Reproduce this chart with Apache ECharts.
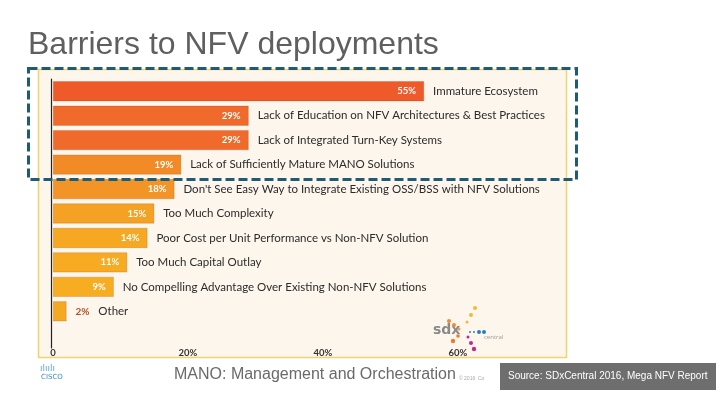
<!DOCTYPE html>
<html>
<head>
<meta charset="utf-8">
<script src="https://cdn.jsdelivr.net/npm/echarts@6/dist/echarts.min.js"></script>
<style>
  html, body { margin: 0; padding: 0; background: #fff; }
  #chart { width: 720px; height: 405px; }
</style>
</head>
<body>
<div id="chart"></div>
<script>
// barriers, top to bottom (last one is the empty row above the axis)
var barriers = [
  'Immature Ecosystem',
  'Lack of Education on NFV Architectures & Best Practices',
  'Lack of Integrated Turn-Key Systems',
  'Lack of Sufficiently Mature MANO Solutions',
  "Don't See Easy Way to Integrate Existing OSS/BSS with NFV Solutions",
  'Too Much Complexity',
  'Poor Cost per Unit Performance vs Non-NFV Solution',
  'Too Much Capital Outlay',
  'No Compelling Advantage Over Existing Non-NFV Solutions',
  'Other',
  ''
];
var percents = [55, 29, 29, 19, 18, 15, 14, 11, 9, 2, null];
var barColors = ['#ef5a2b', '#f06b2b', '#f06b2b', '#f28b26', '#f39526', '#f5a124', '#f6a823', '#f6ab22', '#f6ad22', '#f5a822', '#f5a822'];
var xTicks = [0, 20, 40, 60];

var chart = echarts.init(document.getElementById('chart'), null, { renderer: 'canvas' });

var mainData = percents.map(function (v, i) {
  return { value: v, itemStyle: { color: barColors[i] } };
});

// small helper for the logo dots
function dot(x, y, r, c) {
  return { type: 'circle', z: 50, silent: true, shape: { cx: x, cy: y, r: r }, style: { fill: c } };
}

var option = {
  animation: false,
  backgroundColor: '#ffffff',
  title: {
    text: 'Barriers to NFV deployments',
    left: 23,
    top: 24,
    textStyle: {
      fontFamily: 'Liberation Sans',
      fontSize: 32,
      fontWeight: 'normal',
      color: '#5f5f5f'
    }
  },
  grid: { left: 53, top: 79, width: 506, height: 269 },
  xAxis: {
    type: 'value',
    min: 0,
    max: 75,
    interval: 20,
    splitLine: { show: false },
    axisLine: { show: false },
    axisTick: { show: false },
    axisLabel: {
      showMaxLabel: false,
      margin: 0,
      fontFamily: 'Lato',
      fontSize: 9.5,
      fontWeight: 'bold',
      color: '#333',
      formatter: function (v) {
        if (xTicks.indexOf(v) < 0) return '';
        return v === 0 ? '0' : v + '%';
      }
    }
  },
  yAxis: {
    type: 'category',
    data: barriers,
    inverse: true,
    axisLine: { show: true, onZero: false, lineStyle: { color: '#222', width: 1.2 } },
    offset: 2,
    axisTick: { show: false },
    axisLabel: { show: false }
  },
  series: [
    {
      type: 'bar',
      data: mainData,
      barWidth: 20,
      z: 3,
      itemStyle: { borderColor: 'rgba(150,60,10,0.35)', borderWidth: 0.6 },
      label: {
        show: true,
        position: 'insideRight',
        distance: 8,
        fontFamily: 'Lato',
        fontWeight: 'bold',
        fontSize: 9.5,
        color: '#ffffff',
        formatter: function (p) {
          return p.value >= 5 ? p.value + '%' : '';
        }
      }
    },
    {
      type: 'bar',
      data: percents,
      barWidth: 20,
      barGap: '-100%',
      z: 4,
      itemStyle: { color: 'rgba(0,0,0,0)' },
      label: {
        show: true,
        position: 'right',
        distance: 9,
        fontFamily: 'Lato',
        fontSize: 11.5,
        color: '#2b2b2b',
        formatter: function (p) {
          if (p.value == null) return '';
          if (p.value < 5) return '{v|' + p.value + '%}   ' + p.name;
          return p.name;
        },
        rich: {
          v: { fontFamily: 'Lato', fontWeight: 'bold', fontSize: 10, color: '#b5502a' }
        }
      }
    }
  ],
  graphic: [
    // cream panel behind the chart
    {
      type: 'rect', z: -10, silent: true,
      shape: { x: 38.5, y: 69.5, width: 528, height: 288 },
      style: { fill: '#fdf6ec', stroke: '#f1d36e', lineWidth: 1.5 }
    },
    // highlight box around the top four barriers
    {
      type: 'rect', z: 100, silent: true,
      shape: { x: 28.5, y: 68.5, width: 548, height: 111 },
      style: { fill: 'none', stroke: '#1f5b74', lineWidth: 3, lineDash: [9, 4] }
    },
    // sdx central logo
    {
      type: 'text', z: 50, left: 433, top: 323,
      style: { text: 'sdx', font: 'bold 14px "DejaVu Sans"', fill: '#8a8a8a' }
    },
    {
      type: 'text', z: 50, left: 484, top: 334,
      style: { text: 'central', font: '6px "Open Sans"', fill: '#9a9a9a' }
    },
    dot(449, 321, 2, '#f08a3a'),
    dot(454, 325, 2, '#f08a3a'),
    dot(459, 329, 1.5, '#f0a040'),
    dot(467, 322, 1.5, '#f2b83c'),
    dot(471, 315, 2, '#f2b83c'),
    dot(475, 308, 2, '#f2b83c'),
    dot(470, 332, 1, '#2a7fb8'),
    dot(474, 332, 1, '#2a7fb8'),
    dot(479, 332, 2, '#2a7fb8'),
    dot(484, 332, 2, '#2a7fb8'),
    dot(468, 337, 1.5, '#c02a8a'),
    dot(471, 343, 2, '#c02a8a'),
    dot(474, 349, 2.2, '#c02a8a'),
    dot(458, 336, 1.8, '#ee7a30'),
    dot(453, 341, 2.2, '#ee7a30'),
    // cisco logo
    {
      type: 'text', z: 50, left: 40, top: 364,
      style: { text: 'ılıılı', font: '9px "DejaVu Sans"', fill: '#5aa7d6' }
    },
    {
      type: 'text', z: 50, left: 41, top: 374,
      style: { text: 'CISCO', font: '7px "DejaVu Sans"', fill: '#3d8fc6' }
    },
    // footer
    {
      type: 'text', z: 50, left: 174, top: 367,
      style: { text: 'MANO: Management and Orchestration', font: '16px "Liberation Sans Narrow", "Liberation Sans"', fill: '#6a6a6a' }
    },
    {
      type: 'text', z: 50, left: 459, top: 376,
      style: { text: '© 2016  Co', font: '5px "Liberation Sans"', fill: '#aaaaaa' }
    },
    {
      type: 'rect', z: 50,
      shape: { x: 500, y: 363, width: 216, height: 27 },
      style: { fill: '#6e6e6e' }
    },
    {
      type: 'text', z: 51, left: 508, top: 371,
      style: { text: 'Source: SDxCentral 2016, Mega NFV Report', font: '10px "Liberation Sans Narrow", "Liberation Sans"', fill: '#ffffff' }
    }
  ]
};

chart.setOption(option);
</script>
</body>
</html>
